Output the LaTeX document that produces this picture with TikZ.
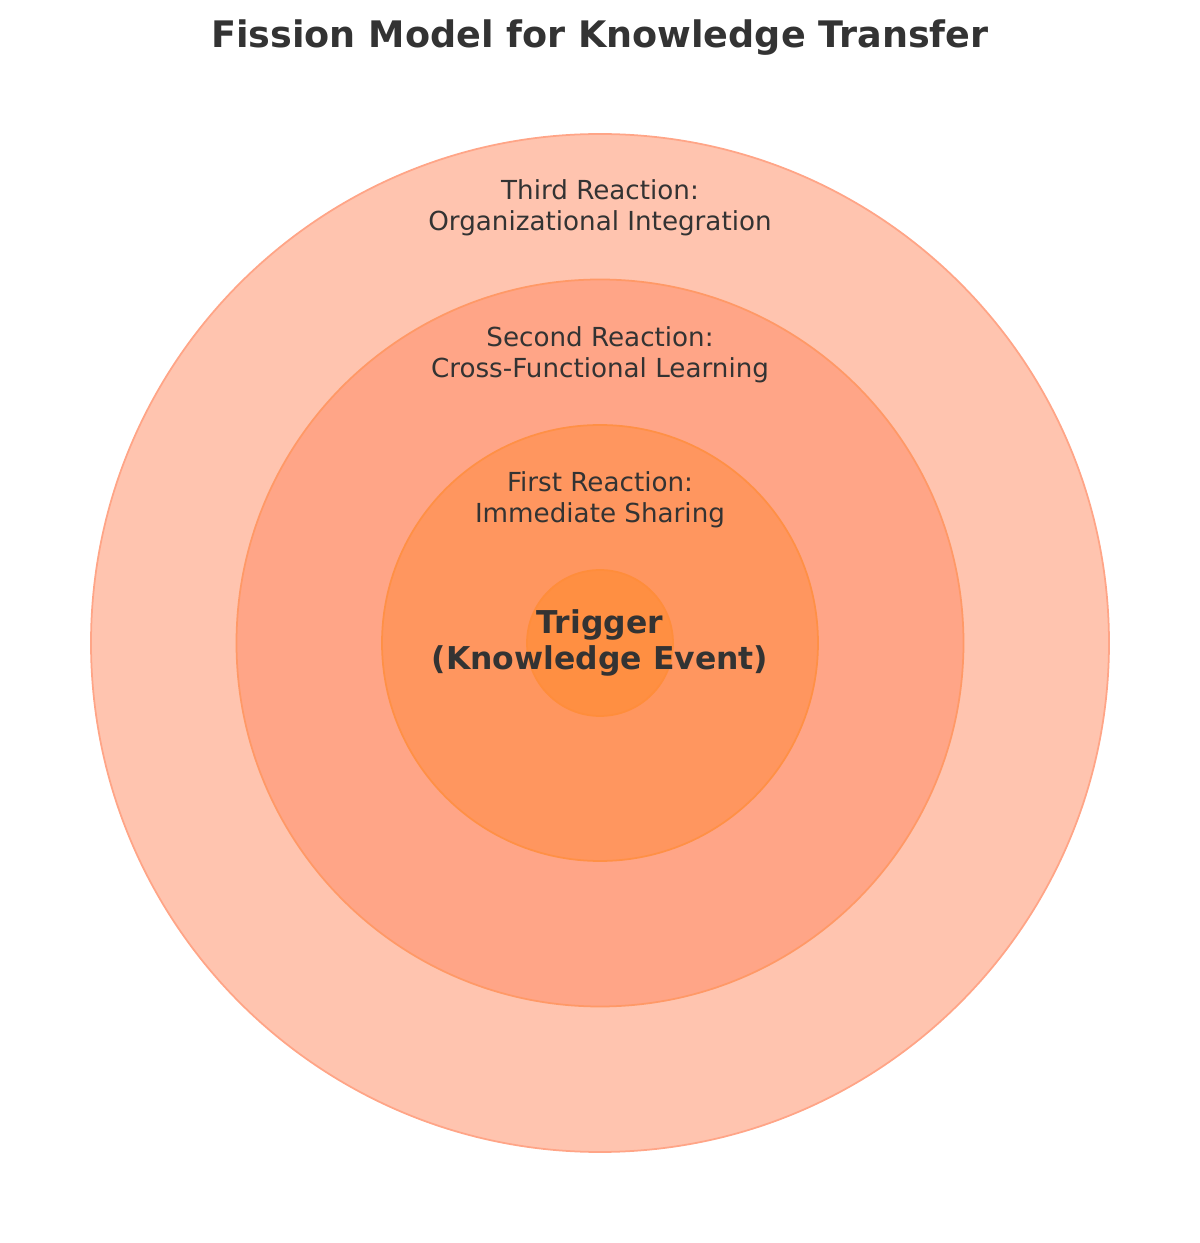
\documentclass[tikz,border=0pt]{standalone}
\usepackage{fontspec}
\setmainfont{DejaVu Sans}
\definecolor{textgray}{HTML}{333333}
\definecolor{ringthree}{HTML}{FFC4AF}
\definecolor{ringtwo}{HTML}{FFA587}
\definecolor{ringone}{HTML}{FF965F}
\definecolor{ringcore}{HTML}{FF8F42}
\begin{document}
\begin{tikzpicture}[
    ring/.style={line width=0.5pt},
    reaction/.style={text=textgray, align=center, font=\fontsize{7.45}{8.8}\selectfont},
  ]

    % Canvas (1 unit = 100 px)
    \useasboundingbox (0,0) rectangle (12,12.43);

    % Centre of the rings
    \coordinate (centre) at (6,6);

    % Concentric rings, outermost first
    \filldraw[ring, fill=ringthree, draw=ringtwo] (centre) circle (5.09);
    \filldraw[ring, fill=ringtwo, draw=ringone!80!ringtwo] (centre) circle (3.635);
    \filldraw[ring, fill=ringone, draw=ringcore!85!ringone] (centre) circle (2.18);
    \filldraw[ring, fill=ringcore, draw=ringcore!90!orange] (centre) circle (0.73);

    % Title
    \node[font=\fontsize{10.4}{12}\bfseries\selectfont, text=textgray] (title) at (6,12.05)
        {Fission Model for Knowledge Transfer};

    % Reaction labels
    \node[reaction] (third) at (6,10.35) {Third Reaction:\\Organizational Integration};
    \node[reaction] (second) at (6,8.88) {Second Reaction:\\Cross-Functional Learning};
    \node[reaction] (first) at (6,7.43) {First Reaction:\\Immediate Sharing};

    % Trigger at the centre
    \node[text=textgray, align=center, font=\fontsize{8.95}{10}\bfseries\selectfont] (trigger) at (centre)
        {Trigger\\(Knowledge Event)};

\end{tikzpicture}
\end{document}
